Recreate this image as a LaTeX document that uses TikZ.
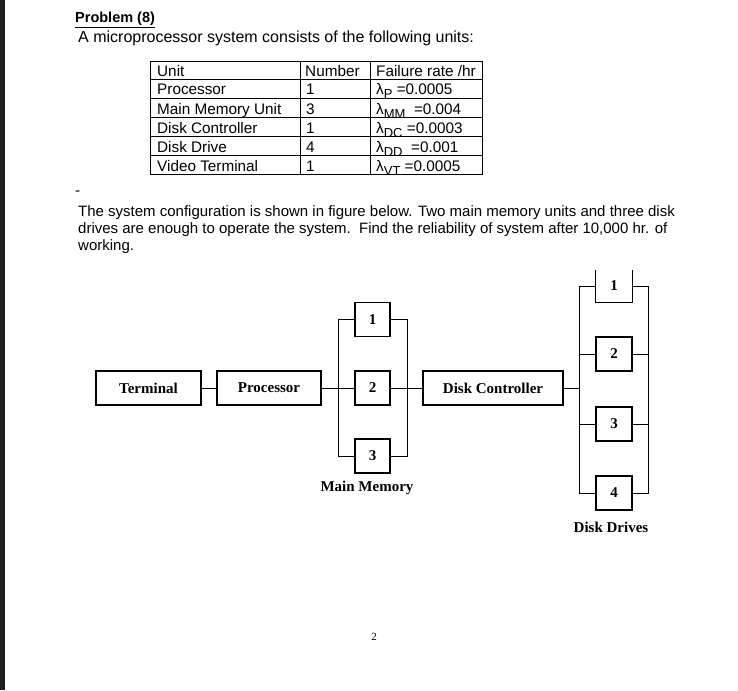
\documentclass[tikz,border=0pt]{standalone}
\usepackage{fontspec}
\setmainfont{Liberation Sans}
\newfontfamily\tnr{Liberation Serif}
\newcommand{\lam}[2]{λ\raisebox{-4pt}{\fontsize{13}{14}\selectfont #1}#2}
\begin{document}
\begin{tikzpicture}[x=1pt,y=-1pt,
  txt/.style={font=\fontsize{15}{17}\selectfont, inner sep=0pt, anchor=base west},
  tbltxt/.style={font=\fontsize{15.3}{17}\selectfont, inner sep=0pt, anchor=base west},
  tblline/.style={line width=1pt},
  blk/.style={draw, line width=1.1pt, font=\tnr\bfseries\fontsize{15}{17}\selectfont, inner sep=0pt, minimum height=34pt},
  numblk/.style={blk, minimum width=35pt, minimum height=34pt},
  lbl/.style={font=\tnr\bfseries\fontsize{15}{17}\selectfont, inner sep=0pt},
  wire/.style={line width=1pt}]
\useasboundingbox (0,0) rectangle (738,690);
\fill[black!88] (0,0) rectangle (5,690);
% header
\node[txt, font=\bfseries\fontsize{14.5}{17}\selectfont] (title) at (75,23) {\underline{Problem (8)}};
\node[txt, font=\fontsize{16}{18}\selectfont] (intro) at (78,43) {A microprocessor system consists of the following units:};
% table
\draw[tblline] (150,62) rectangle (482,174.5);
\foreach \yy in {80,98.5,117.5,136.5,155.5} \draw[tblline] (150,\yy) -- (482,\yy);
\draw[tblline] (300,62) -- (300,174.5);
\draw[tblline] (370,62) -- (370,174.5);
\node[tbltxt] (h1) at (157,77) {Unit};
\node[tbltxt] (h2) at (305,77) {Number};
\node[tbltxt] (h3) at (376,77) {Failure rate /hr};
\node[tbltxt] (r1a) at (157,95) {Processor};
\node[tbltxt] (r1b) at (306,95) {1};
\node[tbltxt] (r1c) at (376,95) {\lam{P}{ =0.0005}};
\node[tbltxt] (r2a) at (157,114) {Main Memory Unit};
\node[tbltxt] (r2b) at (306,114) {3};
\node[tbltxt] (r2c) at (376,114) {\lam{MM}{\ \ =0.004}};
\node[tbltxt] (r3a) at (157,133) {Disk Controller};
\node[tbltxt] (r3b) at (306,133) {1};
\node[tbltxt] (r3c) at (376,133) {\lam{DC}{ =0.0003}};
\node[tbltxt] (r4a) at (157,152) {Disk Drive};
\node[tbltxt] (r4b) at (306,152) {4};
\node[tbltxt] (r4c) at (376,152) {\lam{DD}{\ \ =0.001}};
\node[tbltxt] (r5a) at (157,171) {Video Terminal};
\node[tbltxt] (r5b) at (306,171) {1};
\node[tbltxt] (r5c) at (376,171) {\lam{VT}{ =0.0005}};
% paragraph
\node[txt] (dash) at (75,195) {-};
\node[txt] (p1) at (78,216) {The system configuration is shown in figure below. Two main memory units and three disk};
\node[txt] (p2) at (78,233) {drives are enough to operate the system.\ \ Find the reliability of system after 10,000 hr. of};
\node[txt] (p3) at (78,250) {working.};
% diagram
\node[blk, minimum width=105pt] (term) at (148.5,388) {Terminal};
\node[blk, minimum width=104pt] (proc) at (269,388) {Processor};
\node[numblk] (mm1) at (372.5,319.5) {1};
\node[numblk] (mm2) at (372.5,388) {2};
\node[numblk] (mm3) at (372.5,456) {3};
\node[blk, minimum width=140pt] (dc) at (493,388) {Disk Controller};
\node[lbl, minimum width=36pt, minimum height=32pt] (dd1) at (614,286) {1};
\node[numblk, minimum width=36pt] (dd2) at (614,354) {2};
\node[numblk, minimum width=36pt] (dd3) at (614,424) {3};
\node[numblk, minimum width=36pt] (dd4) at (614,493) {4};
\draw[wire, line width=1.1pt] (dd1.north west) -- (dd1.south west) -- (dd1.south east) -- (dd1.north east);
\node[lbl] (mmlab) at (367,488) {Main Memory};
\node[lbl] (ddlab) at (611,527) {Disk Drives};
\coordinate (mmL) at (338,388);
\coordinate (mmR) at (407,388);
\coordinate (ddL) at (579,388);
\coordinate (ddR) at (648,388);
\draw[wire] (term.east) -- (proc.west);
\draw[wire] (proc.east) -- (mm2.west);
\draw[wire] (mm2.east) -- (dc.west);
\draw[wire] (mm1.west) -- (mm1.west -| mmL) -- (mm3.west -| mmL) -- (mm3.west);
\draw[wire] (mm1.east) -- (mm1.east -| mmR) -- (mm3.east -| mmR) -- (mm3.east);
\draw[wire] (dc.east) -- (ddL);
\draw[wire] (dd1.west) -- (dd1.west -| ddL) -- (dd4.west -| ddL) -- (dd4.west);
\draw[wire] (dd1.east) -- (dd1.east -| ddR) -- (dd4.east -| ddR) -- (dd4.east);
\draw[wire] (dd2.west -| ddL) -- (dd2.west);
\draw[wire] (dd3.west -| ddL) -- (dd3.west);
\draw[wire] (dd2.east) -- (dd2.east -| ddR);
\draw[wire] (dd3.east) -- (dd3.east -| ddR);
\node[font=\tnr\fontsize{11}{12}\selectfont, inner sep=0pt] (pageno) at (374,637) {2};
\end{tikzpicture}
\end{document}
